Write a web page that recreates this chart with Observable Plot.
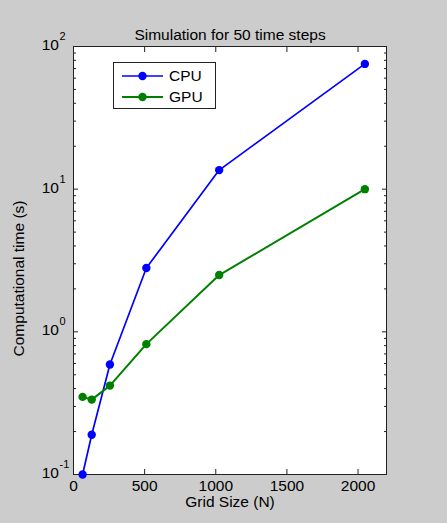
<!DOCTYPE html>
<html><head><meta charset="utf-8">
<script src="https://cdn.jsdelivr.net/npm/d3@7"></script>
<script src="https://cdn.jsdelivr.net/npm/@observablehq/plot@0.6"></script>
<style>
html,body{margin:0;padding:0;background:#cccccc;}
#chart{width:447px;height:523px;}
</style></head><body><div id="chart"></div>
<script>
// ---- data ----
const gridSize = [64, 128, 256, 512, 1024, 2048];
const cpuTime = [0.1, 0.19, 0.59, 2.8, 13.6, 75.5];
const gpuTime = [0.35, 0.335, 0.42, 0.82, 2.5, 10];
const seriesNames = ["CPU", "GPU"];
const seriesColors = ["#0000ff", "#008000"];
const xTicks = [0, 500, 1000, 1500, 2000];
const yMajor = [0.1, 1, 10, 100];
const yExponents = ["-1", "0", "1", "2"];
const yMinor = [0.2, 0.3, 0.4, 0.5, 0.6, 0.7, 0.8, 0.9, 2, 3, 4, 5, 6, 7, 8, 9, 20, 30, 40, 50, 60, 70, 80, 90];
const titleText = "Simulation for 50 time steps";
const xLabel = "Grid Size (N)";
const yLabel = "Computational time (s)";

const rows = [];
gridSize.forEach((n, i) => {
  rows.push({n, t: cpuTime[i], s: seriesNames[0]});
  rows.push({n, t: gpuTime[i], s: seriesNames[1]});
});

const font = "'Liberation Sans', Arial, sans-serif";
const ink = "#222";
const fs = 15.5;

const svg = Plot.plot({
  width: 447, height: 523,
  marginLeft: 73, marginRight: 61, marginTop: 46, marginBottom: 49,
  style: {background: "#cccccc", fontFamily: font, fontSize: fs + "px", color: ink},
  x: {domain: [0, 2200]},
  y: {type: "log", domain: [0.1, 100]},
  color: {domain: seriesNames, range: seriesColors},
  marks: [
    Plot.frame({fill: "white", stroke: null}),
    // x ticks inward bottom & top
    Plot.axisX({ticks: xTicks, anchor: "bottom", tickSize: -5, fill: "none", label: null}),
    Plot.axisX({ticks: xTicks, anchor: "top", tickSize: -5, fill: "none", label: null}),
    Plot.axisX({ticks: xTicks, anchor: "bottom", tickSize: 0, tickPadding: 5, tickFormat: d => String(d), fontSize: fs, label: null, fill: "#000"}),
    // y ticks inward left & right
    Plot.axisY({ticks: yMajor, anchor: "left", tickSize: -5, fill: "none", label: null}),
    Plot.axisY({ticks: yMajor, anchor: "right", tickSize: -5, fill: "none", label: null}),
    Plot.axisY({ticks: yMinor, anchor: "left", tickSize: -3, fill: "none", label: null}),
    Plot.axisY({ticks: yMinor, anchor: "right", tickSize: -3, fill: "none", label: null}),
    // y tick labels 10^k
    Plot.text(yMajor, {y: d => d, text: () => "10", frameAnchor: "left", textAnchor: "end", dx: -14.5, dy: -1.5, fontSize: fs, fill: "#000"}),
    Plot.text(yMajor, {y: d => d, text: (d, i) => yExponents[i], frameAnchor: "left", textAnchor: "start", dx: -14, dy: -10, fontSize: 11, fill: "#000"}),
    Plot.frame({stroke: ink, strokeWidth: 1}),
    // data
    Plot.line(rows, {x: "n", y: "t", stroke: "s", z: "s", strokeWidth: d => d.s === "CPU" ? 1.7 : 2}),
    Plot.dot(rows, {x: "n", y: "t", fill: "s", r: 4.2, stroke: null}),
    // labels
    Plot.text([titleText], {text: d => d, frameAnchor: "top", textAnchor: "middle", dy: -18, fontSize: fs, fill: "#000"}),
    Plot.text([xLabel], {text: d => d, frameAnchor: "bottom", textAnchor: "middle", dy: 32, fontSize: fs, fill: "#000"}),
    Plot.text([yLabel], {text: d => d, frameAnchor: "left", textAnchor: "middle", rotate: -90, dx: -54, dy: 18, fontSize: fs, fill: "#000"})
  ]
});

// legend
const lg = d3.select(svg).append("g").attr("font-family", font).attr("font-size", fs).attr("text-anchor", "start");
lg.append("rect").attr("x", 113.5).attr("y", 62.5).attr("width", 102).attr("height", 46)
  .attr("fill", "white").attr("stroke", ink).attr("stroke-width", 1);
seriesNames.forEach((name, i) => {
  const cy = 76 + i * 21;
  lg.append("line").attr("x1", 122).attr("x2", 163).attr("y1", cy).attr("y2", cy)
    .attr("stroke", seriesColors[i]).attr("stroke-width", i === 0 ? 1.7 : 2);
  lg.append("circle").attr("cx", 142.5).attr("cy", cy).attr("r", 4.2).attr("fill", seriesColors[i]);
  lg.append("text").attr("x", 169).attr("y", cy).attr("dy", "0.35em").attr("fill", "#000")
    .attr("text-anchor", "start").text(name);
});

document.getElementById("chart").appendChild(svg);
</script>
</body></html>
